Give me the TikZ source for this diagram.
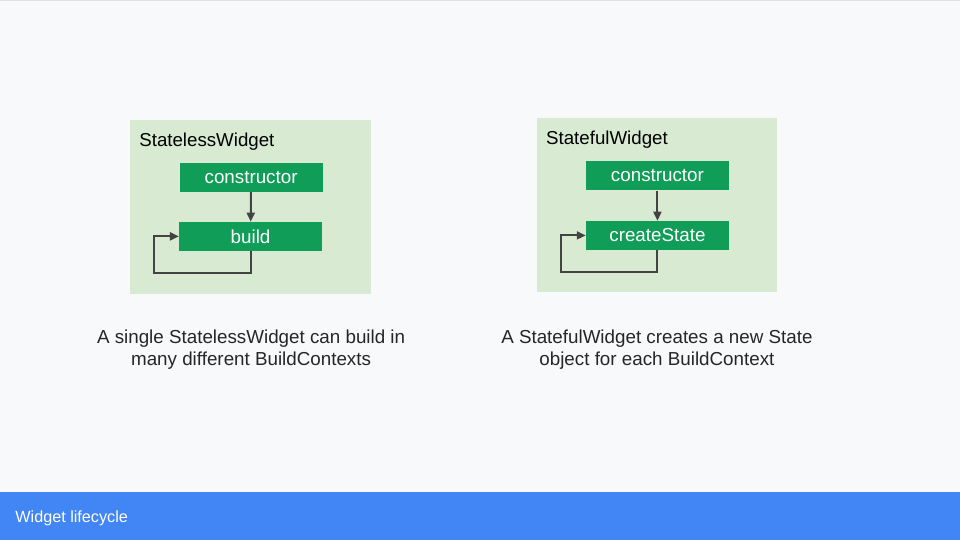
\documentclass[tikz,border=0pt]{standalone}
\usepackage{fontspec}
\setmainfont{Liberation Sans}
\definecolor{pagebg}{HTML}{F8F9FA}
\definecolor{panel}{HTML}{D9EAD3}
\definecolor{stepgreen}{HTML}{0F9D58}
\definecolor{barblue}{HTML}{4285F4}
\definecolor{wire}{HTML}{434343}
\usetikzlibrary{arrows.meta}
\tikzset{
  stepbox/.style={fill=stepgreen, draw=none, minimum width=143pt, minimum height=29pt, inner sep=0pt, text=white, font=\fontsize{18.8}{22}\selectfont},
  wirearrow/.style={draw=wire, line width=2pt, -{Triangle[length=9pt,width=8pt]}},
  caption/.style={align=center, font=\fontsize{18.8}{22}\selectfont, text=black!85}
}
\begin{document}
\begin{tikzpicture}[x=1pt, y=-1pt]
  % background
  \fill[pagebg] (0,0) rectangle (960,540);
  \draw[black!12] (0,0.5) -- (960,0.5);
  \fill[barblue] (0,492) rectangle (960,540);
  \node[anchor=west, inner sep=0pt, text=white, font=\fontsize{16.2}{19}\selectfont] (bar) at (15,519) {Widget lifecycle};

  % StatelessWidget
  \fill[panel] (130,120) rectangle (371,294);
  \node[anchor=west, inner sep=0pt, font=\fontsize{18.7}{22}\selectfont] (lt) at (139,142) {StatelessWidget};
  \node[stepbox] (lc) at (251,177.5) {constructor};
  \node[stepbox] (lb) at (250.5,236.5) {build};
  \coordinate (l1) at (154,273);
  \draw[wirearrow] (lc) -- (lb);
  \draw[wirearrow] (lb.south) |- (l1) |- (lb.west);

  % StatefulWidget
  \fill[panel] (537,118) rectangle (777,292);
  \node[anchor=west, inner sep=0pt, font=\fontsize{18.7}{22}\selectfont] (rt) at (546,140) {StatefulWidget};
  \node[stepbox] (rc) at (657.5,176) {constructor};
  \node[stepbox] (rs) at (657.5,235.5) {createState};
  \coordinate (r1) at (561,272);
  \draw[wirearrow] (rc) -- (rs);
  \draw[wirearrow] (rs.south) |- (r1) |- (rs.west);

  % captions
  \node[caption] (lcap) at (251,350) {A single StatelessWidget can build in\\many different BuildContexts};
  \node[caption] (rcap) at (657,350) {A StatefulWidget creates a new State\\object for each BuildContext};
\end{tikzpicture}
\end{document}
